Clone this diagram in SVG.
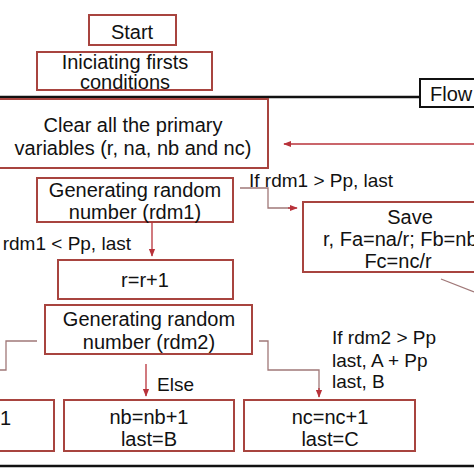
<svg xmlns="http://www.w3.org/2000/svg" width="474" height="474" viewBox="0 0 474 474">
<defs>
<style>
.box{fill:#fff;stroke:#a8443f;stroke-width:2}
.fbox{fill:#fff;stroke:#111;stroke-width:2}
.t{font-family:"Liberation Sans",Arial,sans-serif;font-size:20px;fill:#111;text-anchor:middle}
.l{font-family:"Liberation Sans",Arial,sans-serif;font-size:19px;fill:#111}
.c{fill:none;stroke:#a07878;stroke-width:1.3}
.a{fill:none;stroke:#b8323a;stroke-width:1.3}
.blk{stroke:#111;stroke-width:2.5}
</style>
<marker id="ah" viewBox="0 0 10 10" refX="9" refY="5" markerWidth="8" markerHeight="8" orient="auto" markerUnits="userSpaceOnUse">
<path d="M0,1 L10,5 L0,9 z" fill="#b8323a"/>
</marker>
</defs>
<rect width="474" height="474" fill="#fff"/>
<g id="frame">
<line class="blk" x1="0" y1="97" x2="420" y2="97"/>
<line class="blk" x1="0" y1="466" x2="474" y2="466"/>
</g>
<g id="flow">
<rect class="fbox" x="420" y="79" width="60" height="28"/>
<text class="t" x="430" y="101" style="text-anchor:start">Flow</text>
</g>
<g id="start">
<rect class="box" x="89" y="15" width="87" height="30"/>
<text class="t" x="132" y="39">Start</text>
</g>
<g id="init">
<rect class="box" x="37" y="52" width="175" height="38"/>
<text class="t" x="125" y="69">Iniciating firsts</text>
<text class="t" x="125" y="89">conditions</text>
</g>
<g id="clear">
<rect class="box" x="-5" y="99" width="273" height="69"/>
<text class="t" x="133" y="132">Clear all the primary</text>
<text class="t" x="133" y="155">variables (r, na, nb and nc)</text>
</g>
<g id="rdm1">
<rect class="box" x="37" y="178" width="196" height="44"/>
<text class="t" x="135" y="197">Generating random</text>
<text class="t" x="135" y="219">number (rdm1)</text>
</g>
<g id="save">
<rect class="box" x="303" y="202" width="220" height="70"/>
<text class="t" x="410" y="224">Save</text>
<text class="t" x="323" y="246" style="text-anchor:start">r, Fa=na/r; Fb=nb</text>
<text class="t" x="398" y="268">Fc=nc/r</text>
</g>
<g id="incr">
<rect class="box" x="58" y="260" width="175" height="39"/>
<text class="t" x="145" y="287">r=r+1</text>
</g>
<g id="rdm2">
<rect class="box" x="45" y="305" width="207" height="49"/>
<text class="t" x="149" y="326">Generating random</text>
<text class="t" x="149" y="349">number (rdm2)</text>
</g>
<g id="na">
<rect class="box" x="-10" y="400" width="64" height="51"/>
<text class="t" x="0" y="425" style="text-anchor:start">1</text>
</g>
<g id="nb">
<rect class="box" x="64" y="400" width="170" height="51"/>
<text class="t" x="149" y="424">nb=nb+1</text>
<text class="t" x="149" y="446">last=B</text>
</g>
<g id="nc">
<rect class="box" x="244" y="400" width="171" height="51"/>
<text class="t" x="330" y="424">nc=nc+1</text>
<text class="t" x="330" y="446">last=C</text>
</g>
<g id="connectors">
<line class="a" x1="474" y1="144" x2="284" y2="144" marker-end="url(#ah)"/>
<polyline class="c" points="240,188 268,188 268,208 290,208"/>
<line class="a" x1="288" y1="208" x2="297" y2="208" marker-end="url(#ah)"/>
<line class="a" x1="152" y1="222" x2="152" y2="256" marker-end="url(#ah)"/>
<polyline class="c" points="37,341 6,341 6,370 0,370"/>
<polyline class="c" points="259,341 268,341 268,370 319,370 319,392"/>
<line class="a" x1="319" y1="388" x2="319" y2="397" marker-end="url(#ah)"/>
<line class="a" x1="146" y1="364" x2="146" y2="396" marker-end="url(#ah)"/>
<line class="c" x1="441" y1="279" x2="474" y2="292"/>
</g>
<g id="labels">
<text class="l" x="249" y="187">If rdm1 &gt; Pp, last</text>
<text class="l" x="131" y="250" style="text-anchor:end">rdm1 &lt; Pp, last</text>
<text class="l" x="157" y="391">Else</text>
<text class="l" x="332" y="344">If  rdm2 &gt; Pp</text>
<text class="l" x="332" y="367">last, A + Pp</text>
<text class="l" x="332" y="388">last, B</text>
</g>
</svg>
